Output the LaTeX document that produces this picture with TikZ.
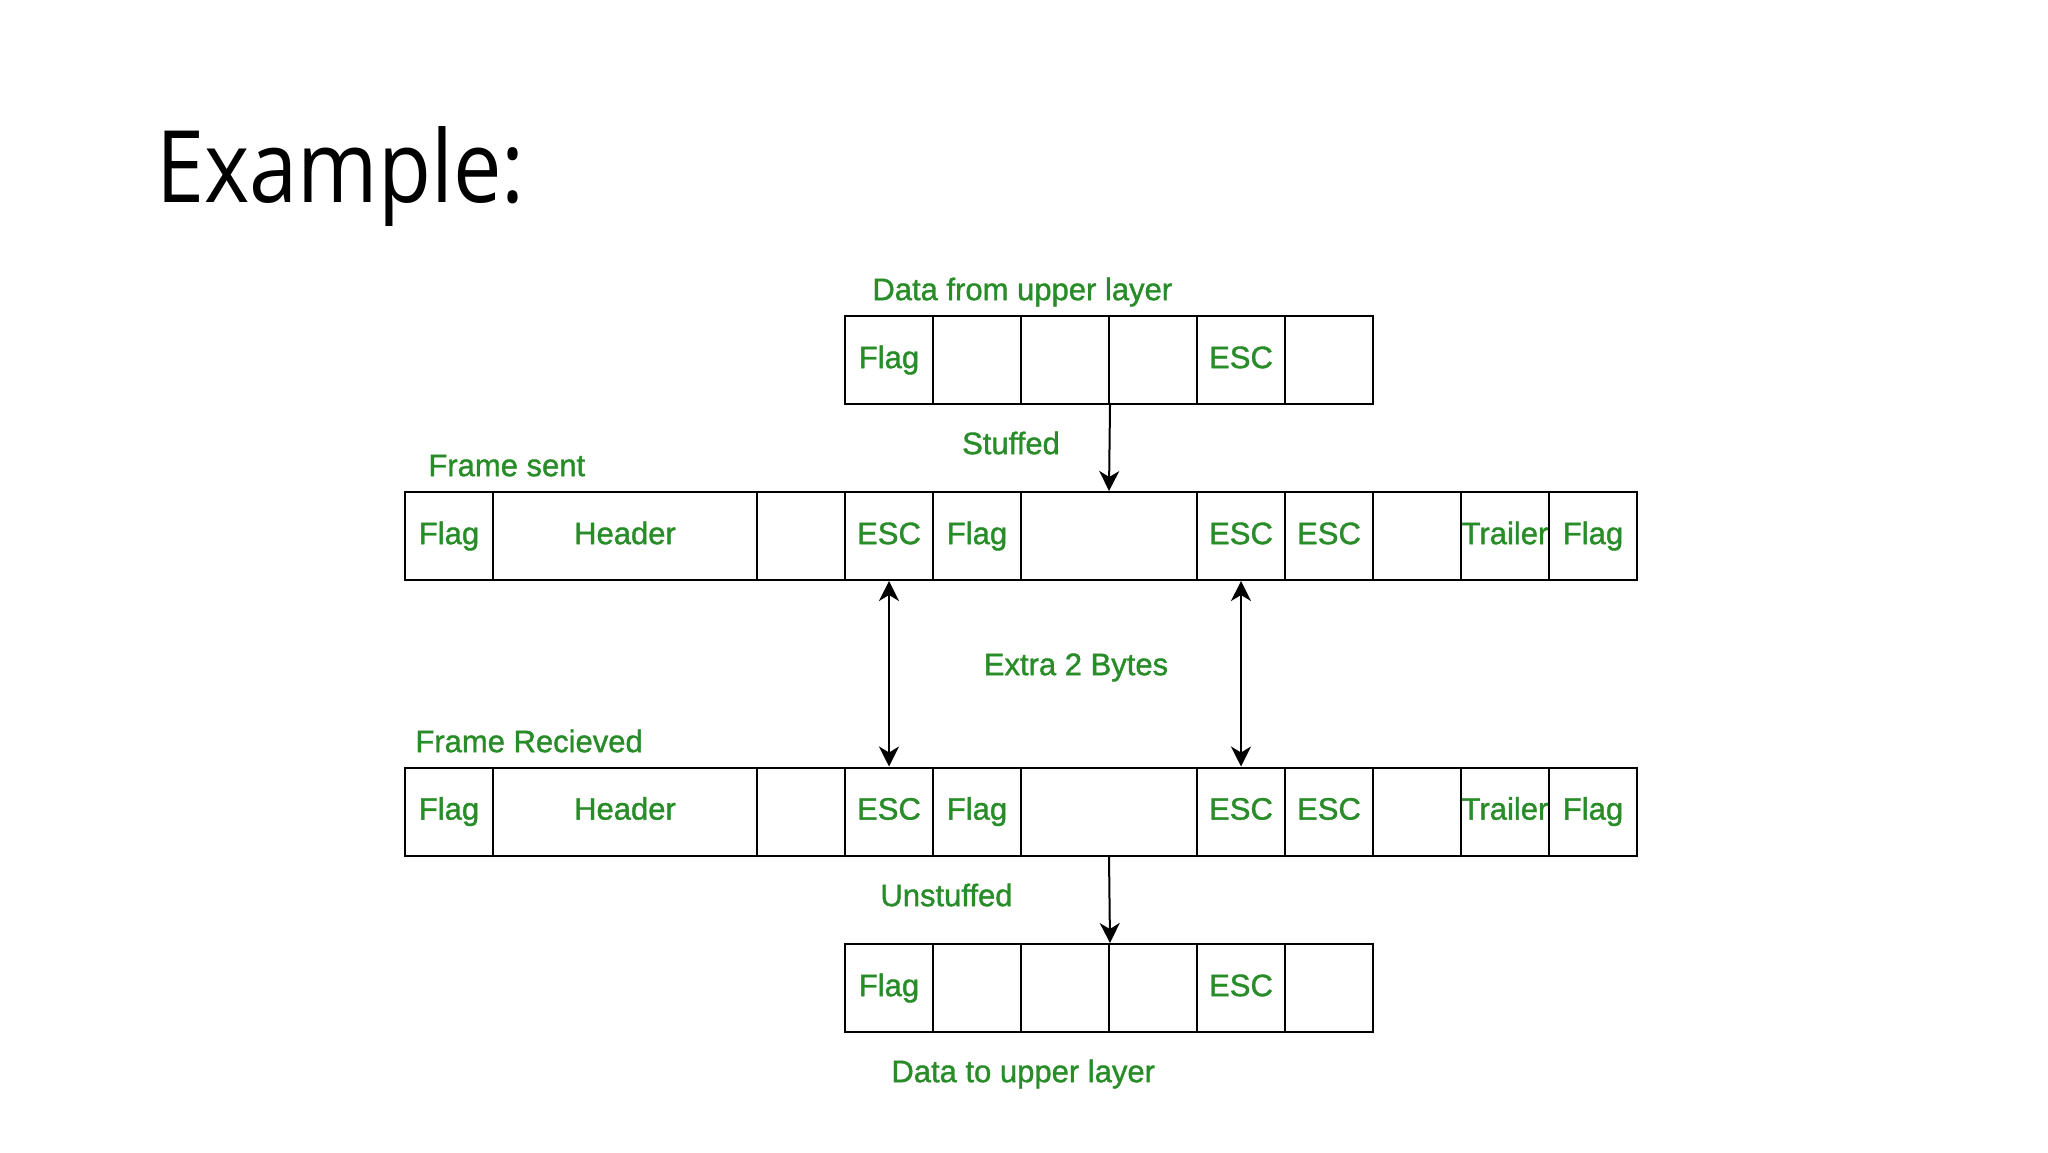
\documentclass[tikz,border=0pt]{standalone}
\usepackage{fontspec}
\setmainfont{Liberation Sans}
\newfontfamily\lblfont{Liberation Sans}[FakeBold=1.2]
\newfontfamily\titlefont{Open Sans}
\usetikzlibrary{arrows.meta}
\definecolor{lblgreen}{RGB}{40,140,40}
\begin{document}
\begin{tikzpicture}[x=0.5pt,y=-0.5pt,
  cell/.style={draw=black, line width=1pt, minimum height=44pt, minimum width=44pt,
    inner sep=0pt, text height=11.1pt, text depth=3pt, text=lblgreen,
    font=\lblfont\fontsize{15.5}{18}\selectfont},
  wide2/.style={minimum width=88pt},
  wide3/.style={minimum width=132pt},
  lbl/.style={inner sep=0pt, text height=11.1pt, text depth=0pt, text=lblgreen,
    font=\lblfont\fontsize{15.5}{18}\selectfont},
  tip/.tip={Stealth[length=10pt,width=10pt,inset=3pt]},
  arr/.style={line width=1pt, -tip},
  darr/.style={line width=1pt, tip-tip}]
\useasboundingbox (0,0) rectangle (2048,1152);
\fill[white] (0,0) rectangle (2048,1152);
% title
\node[anchor=base west, inner sep=0pt, font=\titlefont\fontsize{50}{60}\selectfont] (title) at (156,202) {\scalebox{0.865}[1]{Example:}};
% data from upper layer
\foreach \n/\x/\t in {t1/889/Flag, t2/977/, t3/1065/, t4/1153/, t5/1241/ESC, t6/1329/}
  \node[cell] (\n) at (\x,360) {\t};
% frame sent
\node[cell] (s1) at (449,536) {Flag};
\node[cell,wide3] (s2) at (625,536) {Header};
\node[cell] (s3) at (801,536) {};
\node[cell] (s4) at (889,536) {ESC};
\node[cell] (s5) at (977,536) {Flag};
\node[cell,wide2] (s6) at (1109,536) {};
\node[cell] (s7) at (1241,536) {ESC};
\node[cell] (s8) at (1329,536) {ESC};
\node[cell] (s9) at (1417,536) {};
\node[cell] (s10) at (1505,536) {\makebox[0pt]{Trailer}};
\node[cell] (s11) at (1593,536) {Flag};
% frame received
\node[cell] (r1) at (449,811.5) {Flag};
\node[cell,wide3] (r2) at (625,811.5) {Header};
\node[cell] (r3) at (801,811.5) {};
\node[cell] (r4) at (889,811.5) {ESC};
\node[cell] (r5) at (977,811.5) {Flag};
\node[cell,wide2] (r6) at (1109,811.5) {};
\node[cell] (r7) at (1241,811.5) {ESC};
\node[cell] (r8) at (1329,811.5) {ESC};
\node[cell] (r9) at (1417,811.5) {};
\node[cell] (r10) at (1505,811.5) {\makebox[0pt]{Trailer}};
\node[cell] (r11) at (1593,811.5) {Flag};
% data to upper layer
\foreach \n/\x/\t in {b1/889/Flag, b2/977/, b3/1065/, b4/1153/, b5/1241/ESC, b6/1329/}
  \node[cell] (\n) at (\x,988) {\t};
% labels
\node[lbl, anchor=west] (ldfu) at (872,289) {Data from upper layer};
\node[lbl] (lstuf) at (1011,443) {Stuffed};
\node[lbl, anchor=west] (lsent) at (428,465) {Frame sent};
\node[lbl] (lextra) at (1076,664) {Extra 2 Bytes};
\node[lbl, anchor=west] (lrecv) at (415,741) {Frame Recieved};
\node[lbl, anchor=west] (lunst) at (880,895) {Unstuffed};
\node[lbl, anchor=west] (ldtu) at (891,1071) {Data to upper layer};
% connectors
\draw[arr] (t3.south east) -- (s6.north);
\draw[arr] (r6.south) -- (b3.north east);
\draw[darr] (s4.south) -- (r4.north);
\draw[darr] (s7.south) -- (r7.north);
\end{tikzpicture}
\end{document}
